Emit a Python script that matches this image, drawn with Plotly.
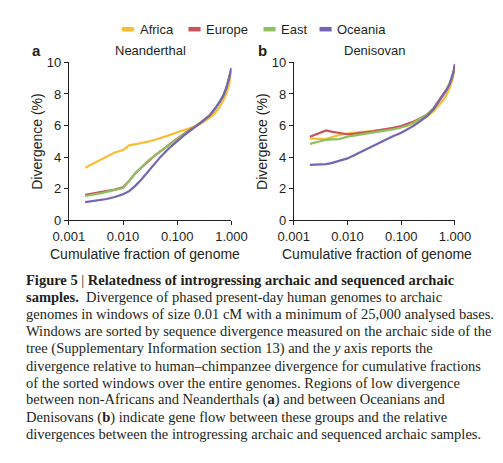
import plotly.graph_objects as go

# page body keeps an 8px margin, so the figure is sized to fill the rest
OFF = 8
W, H = 503 - 2 * OFF, 463 - 2 * OFF

fraction = [0.002, 0.003, 0.004, 0.005, 0.007, 0.01, 0.013, 0.017, 0.022, 0.03,
            0.04, 0.05, 0.07, 0.1, 0.13, 0.17, 0.22, 0.3, 0.4, 0.5,
            0.6, 0.7, 0.8, 0.9, 0.95, 1.0]

groups = ['Africa', 'Europe', 'East', 'Oceania']
colors = ['#f9bd33', '#c9525a', '#8dc161', '#7565b3']

# Neanderthal panel (a)
nea_africa = [3.33, 3.65, 3.9, 4.05, 4.3, 4.45, 4.75, 4.82, 4.88, 5.0,
              5.12, 5.22, 5.38, 5.58, 5.7, 5.82, 5.95, 6.2, 6.5, 6.8,
              7.15, 7.55, 8.0, 8.55, 8.95, 9.4]
nea_europe = [1.62, 1.72, 1.8, 1.86, 1.95, 2.1, 2.5, 3.0, 3.35, 3.8,
              4.15, 4.4, 4.8, 5.17, 5.45, 5.7, 5.98, 6.3, 6.65, 7.05,
              7.45, 7.85, 8.35, 8.95, 9.25, 9.6]
nea_east = [1.54, 1.62, 1.72, 1.8, 1.9, 2.05, 2.5, 3.0, 3.38, 3.82,
            4.15, 4.4, 4.78, 5.15, 5.43, 5.68, 5.97, 6.3, 6.65, 7.05,
            7.45, 7.85, 8.35, 8.95, 9.25, 9.6]
nea_oceania = [1.15, 1.22, 1.28, 1.35, 1.48, 1.65, 1.85, 2.2, 2.6, 3.15,
               3.7, 4.05, 4.55, 5.03, 5.35, 5.65, 5.93, 6.3, 6.65, 7.05,
               7.45, 7.85, 8.35, 8.95, 9.3, 9.65]

# Denisovan panel (b)
den_africa = [5.18, 5.15, 5.14, 5.25, 5.4, 5.5, 5.56, 5.59, 5.62, 5.66,
              5.7, 5.74, 5.82, 5.9, 6.0, 6.12, 6.3, 6.55, 6.9, 7.25,
              7.6, 7.95, 8.4, 8.95, 9.3, 9.7]
den_europe = [5.29, 5.5, 5.69, 5.62, 5.52, 5.45, 5.47, 5.52, 5.56, 5.64,
              5.72, 5.76, 5.85, 5.97, 6.1, 6.25, 6.45, 6.68, 7.1, 7.55,
              7.95, 8.3, 8.65, 9.1, 9.45, 9.85]
den_east = [4.84, 4.98, 5.1, 5.12, 5.14, 5.3, 5.36, 5.42, 5.46, 5.52,
            5.6, 5.66, 5.76, 5.88, 6.0, 6.18, 6.4, 6.68, 7.08, 7.5,
            7.9, 8.25, 8.65, 9.1, 9.45, 9.8]
den_oceania = [3.51, 3.53, 3.56, 3.62, 3.75, 3.92, 4.1, 4.3, 4.48, 4.7,
               4.95, 5.1, 5.32, 5.55, 5.75, 5.98, 6.25, 6.6, 7.05, 7.5,
               7.9, 8.25, 8.65, 9.15, 9.5, 9.9]

x_tickvals = [0.001, 0.01, 0.1, 1]
x_ticktext = ['0.001', '0.010', '0.100', '1.000']
y_tickvals = [0, 2, 4, 6, 8, 10]

panel_letters = ['a', 'b']
panel_titles = ['Neanderthal', 'Denisovan']
y_title = 'Divergence (%)'
x_title = 'Cumulative fraction of genome'

caption_lines = [
    '<b>Figure 5</b> | <b>Relatedness of introgressing archaic and sequenced archaic</b>',
    '<b>samples.</b>  Divergence of phased present-day human genomes to archaic',
    'genomes in windows of size 0.01 cM with a minimum of 25,000 analysed bases.',
    'Windows are sorted by sequence divergence measured on the archaic side of the',
    'tree (Supplementary Information section 13) and the <i>y</i> axis reports the',
    'divergence relative to human\u2013chimpanzee divergence for cumulative fractions',
    'of the sorted windows over the entire genomes. Regions of low divergence',
    'between non-Africans and Neanderthals (<b>a</b>) and between Oceanians and',
    'Denisovans (<b>b</b>) indicate gene flow between these groups and the relative',
    'divergences between the introgressing archaic and sequenced archaic samples.',
]


def px(x):
    return (x - OFF) / W


def py(y):
    return 1 - (y - OFF) / H


SANS = 'Liberation Sans, Arial, sans-serif'
SERIF = 'Liberation Serif, Times New Roman, serif'
INK = '#231f20'

fig = go.Figure()

panels = [
    [nea_africa, nea_europe, nea_east, nea_oceania],
    [den_africa, den_europe, den_east, den_oceania],
]
for p, series in enumerate(panels):
    xa = 'x' if p == 0 else 'x2'
    ya = 'y' if p == 0 else 'y2'
    for name, color, values in zip(groups, colors, series):
        fig.add_trace(go.Scatter(
            x=fraction,
            y=values,
            name=name,
            mode='lines',
            line=dict(color=color, width=2.2),
            xaxis=xa,
            yaxis=ya,
            showlegend=False,
            ))

axis_common = dict(
    showgrid=False,
    zeroline=False,
    showline=True,
    linecolor=INK,
    linewidth=1,
    ticks='outside',
    ticklen=4,
    tickcolor=INK,
    tickfont=dict(family=SANS, size=13, color=INK),
    )

x_dom = [[px(56), px(230)], [px(296.7), px(469.3)]]
y_dom = [py(220.5), py(57)]

layout = dict(
    width=W,
    height=H,
    margin=dict(l=0, r=0, t=0, b=0),
    paper_bgcolor='white',
    plot_bgcolor='white',
    showlegend=False,
    )
for p in range(2):
    sfx = '' if p == 0 else '2'
    layout['xaxis' + sfx] = dict(
        axis_common,
        type='log',
        range=[-3, 0],
        tickvals=x_tickvals,
        ticktext=x_ticktext,
        domain=x_dom[p],
        anchor='y' + sfx,
        )
    layout['yaxis' + sfx] = dict(
        axis_common,
        range=[0, 10],
        tickvals=y_tickvals,
        domain=y_dom,
        anchor='x' + sfx,
        )
fig.update_layout(layout)

annotations = []
shapes = []

# legend drawn by hand to match the compact key
legend_x = [111.7, 183, 263.3, 323.3]
for name, color, lx in zip(groups, colors, legend_x):
    shapes.append(dict(
        type='line', xref='paper', yref='paper',
        x0=px(lx + 1), x1=px(lx + 14), y0=py(22.7), y1=py(22.7),
        line=dict(color=color, width=4.5),
        ))
    annotations.append(dict(
        text=name, xref='paper', yref='paper',
        x=px(lx + 18), y=py(22.7), xanchor='left', yanchor='middle',
        showarrow=False, font=dict(family=SANS, size=13, color=INK),
        ))

letter_x = [21, 263]
title_x = [143, 383]
ytitle_x = [21, 262]
xtitle_x = [137.5, 385.8]
for p in range(2):
    annotations.append(dict(
        text='<b>' + panel_letters[p] + '</b>', xref='paper', yref='paper',
        x=px(letter_x[p]), y=py(45), xanchor='center', yanchor='middle',
        showarrow=False, font=dict(family=SANS, size=15, color=INK),
        ))
    annotations.append(dict(
        text=panel_titles[p], xref='paper', yref='paper',
        x=px(title_x[p]), y=py(45), xanchor='center', yanchor='middle',
        showarrow=False, font=dict(family=SANS, size=13, color=INK),
        ))
    annotations.append(dict(
        text=y_title, xref='paper', yref='paper', textangle=-90,
        x=px(ytitle_x[p]), y=py(139), xanchor='center', yanchor='middle',
        showarrow=False, font=dict(family=SANS, size=14, color=INK),
        ))
    annotations.append(dict(
        text=x_title, xref='paper', yref='paper',
        x=px(xtitle_x[p]), y=py(255), xanchor='center', yanchor='middle',
        showarrow=False, font=dict(family=SANS, size=14, color=INK),
        ))

for i, line in enumerate(caption_lines):
    annotations.append(dict(
        text=line, xref='paper', yref='paper',
        x=px(8), y=py(281.7 + i * 17.8), xanchor='left', yanchor='middle',
        showarrow=False, font=dict(family=SERIF, size=14.5, color=INK),
        ))

fig.update_layout(annotations=annotations, shapes=shapes)

fig.write_html('out.html')
